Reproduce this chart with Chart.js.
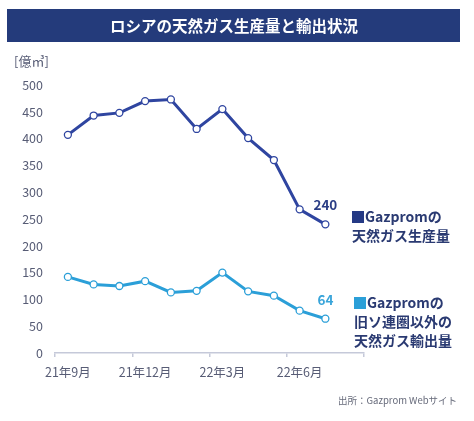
<!DOCTYPE html>
<html><head><meta charset="utf-8">
<script src="https://cdn.jsdelivr.net/npm/chart.js@4"></script>
<style>html,body{margin:0;padding:0;background:#fff}#wrap{width:474px;height:421px;position:relative}</style>
</head><body><div id="wrap"><canvas id="c" width="474" height="421"></canvas></div>
<script>
const TITLE = 'ロシアの天然ガス生産量と輸出状況';
const UNIT = '[億㎥]';
const SOURCE = '出所：Gazprom Webサイト';
const categories = ['21年9月','21年10月','21年11月','21年12月','22年1月','22年2月','22年3月','22年4月','22年5月','22年6月','22年7月','22年8月'];
const shownLabels = ['21年9月','21年12月','22年3月','22年6月'];
const production = [407, 443, 448, 470, 473, 418, 455, 401, 360, 268, 240];
const exportsNonCIS = [142, 128, 125, 134, 113, 116, 150, 115, 107, 79, 64];
const legendProduction = ['Gazpromの','天然ガス生産量'];
const legendExports = ['Gazpromの','旧ソ連圏以外の','天然ガス輸出量'];
const yTicks = [0,50,100,150,200,250,300,350,400,450,500];

const NAVY = '#2f45a0';
const LIGHT = '#2b9fd8';
const TEXT = '#575c75';
const FONT = '"Noto Sans CJK JP","Noto Sans",sans-serif';

const decor = {
  id: 'decor',
  afterDraw(chart) {
    const ctx = chart.ctx;
    ctx.save();
    // title banner
    ctx.fillStyle = '#243b7b';
    ctx.fillRect(7, 9, 453, 33);
    ctx.fillStyle = '#ffffff';
    ctx.font = 'bold 15.5px ' + FONT;
    ctx.textAlign = 'center';
    ctx.textBaseline = 'middle';
    ctx.fillText(TITLE, 234, 26);
    // unit
    ctx.fillStyle = TEXT;
    ctx.font = '13px ' + FONT;
    ctx.textAlign = 'left';
    ctx.fillText(UNIT, 14, 61);
    // data labels at last points
    const m0 = chart.getDatasetMeta(0).data;
    const m1 = chart.getDatasetMeta(1).data;
    const p0 = m0[m0.length - 1], p1 = m1[m1.length - 1];
    ctx.textAlign = 'center';
    ctx.font = 'bold 13.5px ' + FONT;
    ctx.fillStyle = '#2a3d85';
    ctx.fillText(String(production[production.length - 1]), p0.x, p0.y - 19);
    ctx.fillStyle = '#3aa5da';
    ctx.fillText(String(exportsNonCIS[exportsNonCIS.length - 1]), p1.x, p1.y - 19);
    // legends
    ctx.textAlign = 'left';
    ctx.font = 'bold 14px ' + FONT;
    const drawLegend = (lines, color, x, y) => {
      ctx.fillStyle = color;
      ctx.fillRect(x, y - 6, 12, 12);
      ctx.fillStyle = '#2a3a72';
      lines.forEach((t, i) => ctx.fillText(t, i === 0 ? x + 13 : x, y + i * 19));
    };
    drawLegend(legendProduction, '#253a85', 352, 217);
    drawLegend(legendExports, LIGHT, 354, 303);
    // source
    ctx.fillStyle = '#666a7a';
    ctx.font = '9.5px ' + FONT;
    ctx.fillText(SOURCE, 338, 400);
    ctx.restore();
  }
};

new Chart(document.getElementById('c'), {
  type: 'line',
  data: {
    labels: categories,
    datasets: [
      { data: production, borderColor: NAVY, borderWidth: 3, pointRadius: 3.5, pointBackgroundColor: '#fff', pointBorderColor: NAVY, pointBorderWidth: 1.3, tension: 0 },
      { data: exportsNonCIS, borderColor: LIGHT, borderWidth: 3, pointRadius: 3.5, pointBackgroundColor: '#fff', pointBorderColor: LIGHT, pointBorderWidth: 1.3, tension: 0 }
    ]
  },
  options: {
    responsive: false,
    animation: false,
    devicePixelRatio: 1,
    layout: { padding: { left: 0, right: 110, top: 85, bottom: 0 } },
    plugins: { legend: { display: false }, tooltip: { enabled: false } },
    scales: {
      x: {
        offset: true,
        afterFit(s) { s.height = 68; },
        border: { color: '#c5c9d9', width: 1.5 },
        grid: {
          offset: true,
          drawOnChartArea: false,
          drawTicks: true,
          tickLength: 4,
          lineWidth: 1.5,
          color: (c) => (c.index === undefined || c.index % 3 === 0) ? '#c5c9d9' : 'rgba(0,0,0,0)'
        },
        ticks: {
          autoSkip: false,
          maxRotation: 0,
          padding: 8,
          color: TEXT,
          font: { family: FONT, size: 12.5 },
          callback(v, i) { const l = categories[i]; return shownLabels.includes(l) ? l : ''; }
        }
      },
      y: {
        min: 0, max: 500,
        afterFit(s) { s.width = 55; },
        afterBuildTicks(s) { s.ticks = yTicks.map(v => ({ value: v })); },
        border: { display: false },
        grid: { display: false, drawTicks: false },
        ticks: { padding: 12, color: TEXT, font: { family: FONT, size: 12.5 } }
      }
    }
  },
  plugins: [decor]
});
</script></body></html>
